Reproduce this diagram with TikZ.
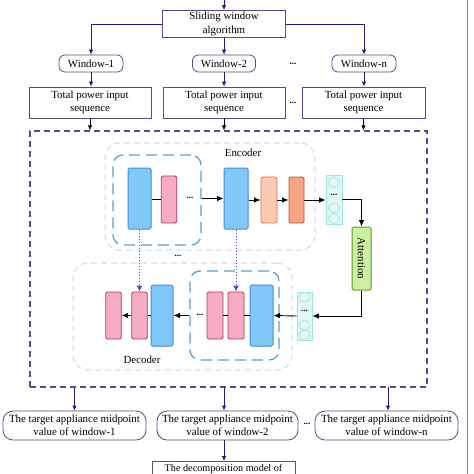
\documentclass[tikz,border=0pt]{standalone}
\usepackage{fontspec}
\setmainfont{Liberation Serif}
\usetikzlibrary{arrows.meta}
\definecolor{boxc}{RGB}{80,80,140}
\definecolor{navy}{RGB}{30,30,120}
\definecolor{sidec}{RGB}{120,120,160}
\definecolor{bluef}{RGB}{128,200,250}
\definecolor{blued}{RGB}{70,140,215}
\definecolor{pinkf}{RGB}{248,172,196}
\definecolor{pinkd}{RGB}{170,60,80}
\definecolor{or1f}{RGB}{252,202,178}
\definecolor{or1d}{RGB}{230,110,60}
\definecolor{or2f}{RGB}{248,165,130}
\definecolor{or2d}{RGB}{185,80,50}
\definecolor{attf}{RGB}{205,240,160}
\definecolor{attd}{RGB}{90,150,50}
\definecolor{vecf}{RGB}{225,248,244}
\definecolor{vecd}{RGB}{160,230,220}
\definecolor{outerc}{RGB}{190,225,238}
\definecolor{innerc}{RGB}{90,155,210}
\definecolor{purp}{RGB}{100,60,230}
\tikzset{
  txt/.style={font=\fontsize{10.9}{13.5}\selectfont},
  box/.style={txt, draw=boxc, line width=0.8pt, fill=white, align=center, inner sep=0pt},
  winbox/.style={box, rounded corners=6pt},
  outbox/.style={box, rounded corners=10pt},
  narr/.style={draw=navy, line width=0.8pt, -{Latex[length=5pt,width=4.5pt]}},
  nline/.style={draw=navy, line width=0.8pt},
  karr/.style={draw=black, line width=0.8pt, -{Latex[length=5pt,width=4.5pt]}},
  blk/.style={draw=black, line width=0.9pt, -{Latex[length=6.5pt,width=5.5pt]}},
  bline/.style={draw=black, line width=0.9pt},
  bluebar/.style={draw=blued, fill=bluef, line width=1pt, rounded corners=1.5pt, minimum width=23pt, minimum height=61pt, inner sep=0pt},
  pinkbar/.style={draw=pinkd, fill=pinkf, line width=0.9pt, rounded corners=1.5pt, minimum width=15.5pt, minimum height=47pt, inner sep=0pt},
  vecbox/.style={draw=vecd, fill=vecf, line width=0.8pt, minimum width=16pt, minimum height=49pt, inner sep=0pt},
  vecell/.style={draw=vecd, fill=vecf, line width=0.7pt},
  dotsl/.style={font=\bfseries\fontsize{9}{9}\selectfont, inner sep=0pt},
  outergrp/.style={draw=outerc, line width=1pt, dash pattern=on 6pt off 4pt, rounded corners=15pt, inner sep=0pt},
  innergrp/.style={draw=innerc, line width=1.2pt, dash pattern=on 11pt off 6pt, rounded corners=10pt, inner sep=0pt},
  purarr/.style={draw=purp, line width=1pt, dotted, -{Latex[length=6pt,width=6pt]}},
}
\begin{document}
\begin{tikzpicture}[x=1pt,y=-1pt]
\useasboundingbox (0,0) rectangle (474,474);
\clip (0,0) rectangle (474,474);
\fill[white] (0,0) rectangle (474,474);
% right side line
\coordinate (s1) at (467,0);
\coordinate (s2) at (467,474);
\draw[sidec, line width=0.9pt] (s1) -- (s2);

% top
\node[box, minimum width=123pt, minimum height=27pt] (slide) at (224,24) {Sliding window\\algorithm};
\coordinate (topin) at (224,0);
\draw[narr] (topin) -- (slide.north);

\node[winbox, minimum width=64pt, minimum height=17pt] (w1) at (91,63.5) {Window-1};
\node[winbox, minimum width=63pt, minimum height=17pt] (w2) at (224,63.5) {Window-2};
\node[winbox, minimum width=64pt, minimum height=17pt] (wn) at (364,63.5) {Window-n};
\node[dotsl] (wd) at (293,64) {...};

\draw[narr] (slide.west) -| (w1.north);
\draw[narr] (slide.east) -| (wn.north);
\draw[narr] (slide.south) -- (w2.north);

\node[box, minimum width=122pt, minimum height=31pt] (t1) at (90,102.5) {Total power input\\sequence};
\node[box, minimum width=122pt, minimum height=31pt] (t2) at (224,102.5) {Total power input\\sequence};
\node[box, minimum width=123pt, minimum height=31pt] (tn) at (363.5,102.5) {Total power input\\sequence};
\node[dotsl] (td) at (293,103) {...};

\draw[narr] (w1.south) -- (w1.south |- t1.north);
\draw[narr] (w2.south) -- (w2.south |- t2.north);
\draw[narr] (wn.south) -- (wn.south |- tn.north);

% big dashed box
\node[draw=boxc, line width=1.1pt, dash pattern=on 6pt off 4pt, minimum width=397pt, minimum height=256pt, inner sep=0pt] (big) at (228.5,259) {};

\draw[karr] (t1.south) -- (t1.south |- big.north);
\draw[karr] (t2.south) -- (t2.south |- big.north);
\draw[karr] (tn.south) -- (tn.south |- big.north);

% encoder groups
\node[outergrp, minimum width=210pt, minimum height=107pt] (encout) at (210,196.5) {};
\node[innergrp, minimum width=88pt, minimum height=90pt] (encin) at (157,200) {};
\node[txt] (enclab) at (243,153) {Encoder};

\node[bluebar] (b1) at (139.5,198.5) {};
\node[pinkbar] (p1e) at (169,199.5) {};
\node[dotsl] (ed1) at (190,198) {...};
\node[bluebar, minimum width=24pt] (b2) at (236,198.5) {};
\node[draw=or1d, fill=or1f, line width=0.9pt, rounded corners=1.5pt, minimum width=16pt, minimum height=46pt, inner sep=0pt] (o1) at (269,200) {};
\node[draw=or2d, fill=or2f, line width=0.9pt, rounded corners=1.5pt, minimum width=15pt, minimum height=46pt, inner sep=0pt] (o2) at (296.5,200) {};
\node[vecbox] (ev) at (334,199.5) {};
\draw[vecell] (334,182.5) ellipse (5.5 and 5);
\draw[vecell] (334,208) ellipse (5.5 and 5);
\draw[vecell] (334,218.5) ellipse (5.5 and 5);
\node[dotsl] (evd) at (334,195) {...};

\draw[bline] (b1.east |- p1e.west) -- (p1e.west);
\draw[blk] (encin.east |- b2.west) -- (b2.west);
\draw[blk] (b2.east |- o1.west) -- (o1.west);
\draw[blk] (o1.east) -- (o2.west);
\draw[blk] (o2.east) -- (o2.east -| ev.west);

% attention (rotated -90: west anchor is on top, east anchor at bottom)
\node[draw=attd, fill=attf, line width=1pt, rounded corners=1.5pt, minimum width=63pt, minimum height=19pt, inner sep=0pt, rotate=-90, txt] (att) at (361.5,258.5) {Attention};
\draw[blk] (ev.east) -| (att.west);

% encoder - decoder dots
\node[dotsl] (mid) at (178,256) {...};

% decoder groups
\node[outergrp, minimum width=219pt, minimum height=107pt] (decout) at (182.5,316.5) {};
\node[innergrp, minimum width=89pt, minimum height=89pt] (decin) at (234.5,315.5) {};
\node[txt] (declab) at (142,360) {Decoder};

\node[pinkbar] (q1) at (113.5,315.5) {};
\node[pinkbar] (q2) at (139.5,315.5) {};
\node[bluebar, minimum width=22pt] (b3) at (162,315.5) {};
\node[dotsl] (dd1) at (200,315) {...};
\node[pinkbar, minimum width=16pt] (q3) at (215,315.5) {};
\node[pinkbar, minimum width=16pt] (q4) at (236,315.5) {};
\node[bluebar] (b4) at (261.5,315.5) {};
\node[vecbox, minimum width=15pt, minimum height=48pt] (dv) at (304.5,316) {};
\draw[vecell] (304.5,297) ellipse (5.5 and 5);
\draw[vecell] (304.5,325) ellipse (5.5 and 5);
\draw[vecell] (304.5,335) ellipse (5.5 and 5);
\node[dotsl] (dvd) at (304.5,311) {...};

\draw[blk] (att.east) |- (dv.east);
\draw[blk] (dv.west) -- (b4.east);
\draw[bline] (b4.west) -- (q4.east);
\draw[bline] (q4.west) -- (q3.east);
\draw[blk] (decin.west |- b3.east) -- (b3.east);
\draw[bline] (b3.west) -- (q2.east);
\draw[blk] (q2.west) -- (q1.east);

% dotted purple
\draw[purarr] (b1.south -| q2.north) -- (q2.north);
\draw[purarr] (b2.south) -- (q4.north);

% outputs
\node[outbox, minimum width=143pt, minimum height=29pt] (r1) at (74.5,425.5) {The target appliance midpoint\\value of window-1};
\node[outbox, minimum width=141pt, minimum height=29pt] (r2) at (227.5,425.5) {The target appliance midpoint\\value of window-2};
\node[outbox, minimum width=143pt, minimum height=29pt] (rn) at (386.5,425.5) {The target appliance midpoint\\value of window-n};
\node[dotsl] (rd) at (307,424) {...};

\coordinate (a2) at (224,387);
\coordinate (a3) at (388,387);
\draw[narr] (r1.north |- big.south) -- (r1.north);
\draw[narr] (a2) -- (a2 |- r2.north);
\draw[narr] (a3) -- (a3 |- rn.north);

\node[box, anchor=north, minimum width=143pt, inner xsep=0pt, inner ysep=2pt, text height=8.5pt, text depth=18pt, font=\fontsize{10.2}{12}\selectfont] (final) at (223.5,461) {The decomposition model of};
\draw[narr] (a2 |- r2.south) -- (a2 |- final.north);
\end{tikzpicture}
\end{document}
